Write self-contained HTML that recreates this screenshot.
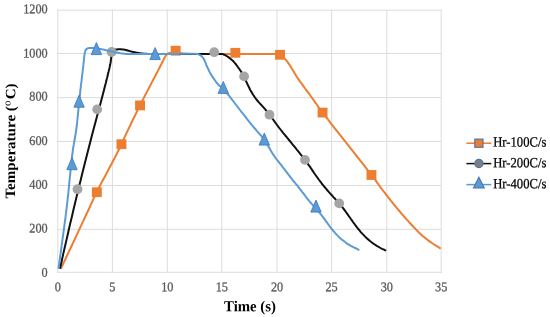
<!DOCTYPE html>
<html><head><meta charset="utf-8"><title>Chart</title>
<style>
html,body{margin:0;padding:0;background:#fff;}
body{width:550px;height:317px;overflow:hidden;}
svg{display:block;}
text{font-family:"Liberation Serif","Times New Roman",serif;text-rendering:geometricPrecision;}
.tick{font-size:13.3px;fill:#595959;stroke:#595959;stroke-width:0.3px;}
.leg{font-size:14px;fill:#000;stroke:#000;stroke-width:0.25px;}
.ttl{font-size:15.2px;font-weight:bold;fill:#000;}
.yttl{font-size:14.3px;font-weight:bold;fill:#000;}
</style></head><body>
<svg width="550" height="317" viewBox="0 0 550 317">
<rect width="550" height="317" fill="#fff"/>
<g stroke="#dcdcdc" stroke-width="1" fill="none">
<line x1="57.80" y1="9.7" x2="57.80" y2="272.8"/>
<line x1="112.40" y1="9.7" x2="112.40" y2="272.8"/>
<line x1="167.30" y1="9.7" x2="167.30" y2="272.8"/>
<line x1="221.80" y1="9.7" x2="221.80" y2="272.8"/>
<line x1="277.00" y1="9.7" x2="277.00" y2="272.8"/>
<line x1="331.60" y1="9.7" x2="331.60" y2="272.8"/>
<line x1="386.80" y1="9.7" x2="386.80" y2="272.8"/>
<line x1="441.20" y1="9.7" x2="441.20" y2="272.8"/>
<line x1="57.3" y1="272.30" x2="441.7" y2="272.30"/>
<line x1="57.3" y1="229.30" x2="441.7" y2="229.30"/>
<line x1="57.3" y1="185.50" x2="441.7" y2="185.50"/>
<line x1="57.3" y1="141.40" x2="441.7" y2="141.40"/>
<line x1="57.3" y1="97.60" x2="441.7" y2="97.60"/>
<line x1="57.3" y1="53.50" x2="441.7" y2="53.50"/>
<line x1="57.3" y1="10.20" x2="441.7" y2="10.20"/>
</g>
<text class="tick" transform="translate(47.70,276.80) rotate(0.05) scale(0.92,1)" text-anchor="end">0</text>
<text class="tick" transform="translate(47.70,232.40) rotate(0.05) scale(0.92,1)" text-anchor="end">200</text>
<text class="tick" transform="translate(47.70,188.70) rotate(0.05) scale(0.92,1)" text-anchor="end">400</text>
<text class="tick" transform="translate(47.70,145.10) rotate(0.05) scale(0.92,1)" text-anchor="end">600</text>
<text class="tick" transform="translate(47.70,100.60) rotate(0.05) scale(0.92,1)" text-anchor="end">800</text>
<text class="tick" transform="translate(47.70,57.50) rotate(0.05) scale(0.92,1)" text-anchor="end">1000</text>
<text class="tick" transform="translate(47.70,13.25) rotate(0.05) scale(0.92,1)" text-anchor="end">1200</text>
<text class="tick" transform="translate(57.80,291.30) rotate(0.05) scale(0.92,1)" text-anchor="middle">0</text>
<text class="tick" transform="translate(112.40,291.30) rotate(0.05) scale(0.92,1)" text-anchor="middle">5</text>
<text class="tick" transform="translate(167.30,291.30) rotate(0.05) scale(0.92,1)" text-anchor="middle">10</text>
<text class="tick" transform="translate(221.80,291.30) rotate(0.05) scale(0.92,1)" text-anchor="middle">15</text>
<text class="tick" transform="translate(277.00,291.30) rotate(0.05) scale(0.92,1)" text-anchor="middle">20</text>
<text class="tick" transform="translate(331.60,291.30) rotate(0.05) scale(0.92,1)" text-anchor="middle">25</text>
<text class="tick" transform="translate(386.80,291.30) rotate(0.05) scale(0.92,1)" text-anchor="middle">30</text>
<text class="tick" transform="translate(441.20,291.30) rotate(0.05) scale(0.92,1)" text-anchor="middle">35</text>
<text class="ttl" transform="translate(250.00,311.35) rotate(0.05) scale(0.975,1)" text-anchor="middle">Time (s)</text>
<text class="yttl" transform="translate(15.10,198.60) rotate(-90) rotate(0.05) scale(1.054,1)" text-anchor="start">Temperature (<tspan dx="0.2" dy="-4.6" style="font-size:10.5px;font-weight:normal">o</tspan><tspan dx="1.0" dy="4.6">C)</tspan></text>
<polyline points="60.8,268.8 64.4,261.2 68.1,253.3 71.9,245.3 75.6,237.3 79.2,229.6 82.6,222.3 85.7,215.7 88.4,210.0 89.7,207.3 90.7,204.9 91.7,202.8 92.6,200.8 93.5,198.8 94.5,196.8 95.6,194.5 96.8,192.0 99.2,187.3 102.0,181.8 105.2,175.9 108.4,169.7 111.6,163.7 114.5,158.3 116.9,153.6 118.7,150.0 119.2,149.0 119.5,148.3 119.8,147.6 120.1,147.0 120.3,146.4 120.6,145.7 121.0,145.0 121.4,144.0 123.0,140.6 125.1,136.1 127.6,130.9 130.3,125.3 133.0,119.5 135.7,114.1 138.0,109.2 140.0,105.2 140.9,103.4 141.7,101.9 142.4,100.4 143.2,99.1 143.8,97.8 144.5,96.5 145.2,95.1 146.0,93.7 146.8,92.1 147.7,90.4 148.6,88.7 149.5,87.0 150.4,85.3 151.2,83.6 152.1,81.9 153.0,80.2 153.9,78.5 154.8,76.8 155.7,75.0 156.6,73.3 157.5,71.6 158.4,69.9 159.2,68.3 160.0,66.7 160.6,65.5 161.3,64.2 161.9,63.0 162.5,61.8 163.1,60.7 163.6,59.6 164.1,58.7 164.6,57.8 164.9,57.3 165.1,56.9 165.3,56.5 165.5,56.1 165.7,55.8 165.9,55.4 166.1,55.1 166.4,54.8 166.6,54.6 166.9,54.3 167.2,54.1 167.4,53.9 167.7,53.8 168.0,53.6 168.3,53.4 168.6,53.3 169.0,53.2 169.4,53.0 169.8,52.9 170.2,52.9 170.7,52.8 171.1,52.7 171.6,52.7 172.0,52.6 172.4,52.5 172.9,52.5 173.3,52.4 173.8,52.3 174.2,52.3 174.7,52.2 175.1,52.2 175.6,52.2 176.1,52.2 176.7,52.3 177.2,52.4 177.8,52.5 178.3,52.7 178.9,52.8 179.4,52.9 180.0,53.0 180.6,53.1 181.2,53.2 181.7,53.3 182.3,53.4 182.9,53.5 183.6,53.6 184.2,53.6 185.0,53.7 186.5,53.8 188.1,53.8 189.9,53.9 191.9,53.9 193.9,53.9 195.9,53.9 198.0,53.9 200.0,53.9 202.4,53.9 204.9,53.9 207.4,53.9 210.0,53.9 212.5,53.9 215.1,53.9 217.6,53.9 220.0,53.9 222.1,53.9 224.1,53.9 226.1,53.9 228.1,53.9 230.0,53.9 232.0,53.9 233.9,53.9 235.8,53.9 237.6,53.9 239.4,53.9 241.2,53.9 242.9,53.9 244.7,53.9 246.4,53.9 248.2,53.9 250.0,53.9 251.9,53.9 253.9,53.9 255.8,53.9 257.8,53.9 259.8,53.9 261.6,53.9 263.4,53.9 265.0,53.9 266.0,53.9 267.0,53.9 267.9,53.9 268.7,53.9 269.6,53.9 270.4,53.9 271.2,53.9 272.0,53.9 272.7,53.9 273.5,53.9 274.2,53.9 274.9,53.9 275.6,54.0 276.3,54.0 276.9,54.0 277.5,54.0 277.9,54.1 278.2,54.1 278.5,54.1 278.8,54.2 279.1,54.2 279.4,54.2 279.7,54.3 280.0,54.4 280.3,54.5 280.6,54.6 280.9,54.7 281.1,54.9 281.4,55.0 281.7,55.2 281.9,55.4 282.2,55.6 282.5,55.9 282.9,56.2 283.2,56.6 283.5,56.9 283.8,57.3 284.1,57.8 284.5,58.2 284.8,58.6 285.2,59.1 285.7,59.7 286.2,60.3 286.7,60.9 287.2,61.5 287.7,62.1 288.1,62.8 288.6,63.4 289.1,64.1 289.6,64.9 290.1,65.6 290.6,66.4 291.1,67.2 291.5,68.0 292.0,68.7 292.4,69.4 292.7,70.0 293.0,70.5 293.3,71.0 293.6,71.5 293.9,72.1 294.2,72.6 294.5,73.1 294.8,73.6 295.1,74.1 295.4,74.6 295.7,75.1 296.0,75.6 296.4,76.1 296.7,76.7 297.1,77.3 297.6,78.0 298.7,79.6 300.1,81.6 301.7,83.7 303.4,86.1 305.1,88.5 306.9,90.9 308.7,93.2 310.3,95.5 311.8,97.6 313.2,99.5 314.5,101.4 315.9,103.3 317.3,105.3 318.8,107.5 320.6,109.8 322.5,112.4 327.3,118.6 333.2,126.3 340.0,134.8 347.1,143.8 354.2,152.8 360.9,161.3 366.8,168.8 371.4,174.8 373.1,177.1 374.7,179.2 376.1,181.1 377.3,182.8 378.5,184.5 379.7,186.1 380.9,187.8 382.2,189.5 383.4,191.1 384.7,192.7 385.9,194.3 387.1,195.9 388.3,197.5 389.6,199.0 390.8,200.6 392.1,202.2 393.4,203.9 394.8,205.5 396.2,207.2 397.5,208.8 398.9,210.5 400.3,212.2 401.7,213.8 403.1,215.4 404.5,217.0 405.9,218.6 407.3,220.1 408.7,221.7 410.1,223.2 411.5,224.7 412.9,226.2 414.2,227.6 415.3,228.8 416.4,229.9 417.5,231.0 418.6,232.1 419.7,233.2 420.8,234.2 421.9,235.2 423.0,236.2 424.1,237.1 425.2,238.0 426.3,238.9 427.4,239.7 428.5,240.6 429.6,241.4 430.8,242.2 431.9,243.0 433.0,243.7 434.1,244.5 435.2,245.2 436.3,245.9 437.4,246.5 438.5,247.2 439.6,247.9 440.7,248.6" fill="none" stroke="#ed7d31" stroke-width="2" stroke-linejoin="round" stroke-linecap="butt"/>
<rect x="91.9" y="187.3" width="9.9" height="9.8" fill="#ed7d31"/>
<rect x="116.5" y="139.3" width="9.9" height="9.8" fill="#ed7d31"/>
<rect x="135.1" y="100.5" width="9.9" height="9.8" fill="#ed7d31"/>
<rect x="170.7" y="45.8" width="9.9" height="9.8" fill="#ed7d31"/>
<rect x="230.4" y="47.9" width="9.9" height="9.8" fill="#ed7d31"/>
<rect x="275.1" y="49.9" width="9.9" height="9.8" fill="#ed7d31"/>
<rect x="317.6" y="107.7" width="9.9" height="9.8" fill="#ed7d31"/>
<rect x="366.5" y="170.1" width="9.9" height="9.8" fill="#ed7d31"/>
<polyline points="59.9,268.8 61.6,261.5 63.2,254.1 64.9,246.8 66.6,239.4 68.3,232.1 69.9,224.7 71.7,217.4 73.4,210.0 75.2,202.5 77.0,195.0 78.8,187.5 80.7,180.0 82.5,172.5 84.4,165.0 86.3,157.5 88.2,150.0 90.2,142.2 92.3,134.1 94.5,125.8 96.7,117.6 98.8,109.7 100.8,102.3 102.5,95.7 104.0,90.0 104.6,87.5 105.2,85.2 105.8,83.1 106.3,81.1 106.7,79.3 107.2,77.5 107.6,75.8 108.0,74.0 108.3,72.6 108.7,71.3 109.0,69.9 109.3,68.7 109.6,67.4 109.8,66.2 110.1,65.1 110.3,64.0 110.4,63.3 110.6,62.6 110.7,61.9 110.8,61.3 110.8,60.7 110.9,60.1 111.0,59.4 111.1,58.8 111.2,58.1 111.2,57.4 111.3,56.7 111.4,56.0 111.4,55.3 111.5,54.7 111.6,54.1 111.7,53.5 111.8,53.2 111.9,52.8 112.0,52.5 112.1,52.2 112.2,51.9 112.3,51.7 112.4,51.4 112.6,51.2 112.7,51.0 112.9,50.8 113.1,50.7 113.2,50.5 113.4,50.4 113.6,50.2 113.8,50.1 114.0,50.0 114.2,49.9 114.4,49.8 114.7,49.7 114.9,49.7 115.2,49.6 115.4,49.6 115.7,49.5 116.0,49.5 116.4,49.4 116.9,49.4 117.4,49.4 117.9,49.3 118.4,49.3 119.0,49.3 119.5,49.3 120.0,49.3 120.5,49.3 121.0,49.3 121.5,49.3 122.0,49.4 122.5,49.4 123.0,49.5 123.5,49.5 124.0,49.6 124.5,49.7 125.0,49.8 125.5,49.9 126.0,50.0 126.5,50.2 127.0,50.3 127.5,50.5 128.0,50.6 128.6,50.8 129.2,50.9 129.8,51.1 130.5,51.3 131.1,51.4 131.7,51.6 132.4,51.8 133.0,51.9 133.6,52.0 134.2,52.2 134.9,52.3 135.5,52.4 136.1,52.6 136.7,52.7 137.4,52.8 138.0,52.9 138.6,53.0 139.2,53.1 139.9,53.2 140.5,53.3 141.1,53.4 141.7,53.5 142.4,53.5 143.0,53.6 143.6,53.7 144.2,53.7 144.8,53.8 145.4,53.8 146.1,53.8 146.7,53.8 147.3,53.9 148.0,53.9 148.8,53.9 149.6,53.9 150.3,54.0 151.1,54.0 152.0,54.0 152.9,54.0 153.9,54.0 155.0,54.0 157.7,54.0 161.0,54.0 164.7,54.0 168.6,54.0 172.7,53.9 176.9,53.9 181.0,53.9 185.0,53.9 189.3,53.9 193.9,53.9 198.7,53.9 203.5,53.9 208.0,54.0 212.1,54.0 215.5,54.0 218.0,54.0 218.6,54.0 219.2,54.0 219.6,54.0 220.0,54.0 220.4,54.0 220.8,54.0 221.1,54.0 221.5,54.0 221.8,54.0 222.0,54.0 222.2,54.1 222.4,54.1 222.6,54.1 222.8,54.2 223.1,54.2 223.3,54.3 223.7,54.5 224.2,54.7 224.7,54.9 225.2,55.2 225.8,55.5 226.3,55.8 226.9,56.2 227.4,56.5 228.0,56.9 228.7,57.4 229.4,57.9 230.0,58.4 230.7,58.9 231.3,59.4 231.9,59.9 232.5,60.4 232.9,60.8 233.3,61.2 233.7,61.7 234.1,62.1 234.4,62.5 234.8,62.9 235.1,63.4 235.5,63.8 235.9,64.2 236.2,64.7 236.5,65.1 236.9,65.6 237.2,66.0 237.5,66.5 237.9,67.0 238.3,67.6 239.0,68.5 239.7,69.6 240.5,70.7 241.3,71.9 242.1,73.1 242.8,74.2 243.5,75.4 244.1,76.4 244.5,77.1 244.8,77.8 245.0,78.5 245.3,79.1 245.5,79.8 245.8,80.4 246.1,81.2 246.4,81.9 246.9,83.0 247.4,84.1 248.0,85.3 248.6,86.5 249.2,87.8 249.8,89.0 250.4,90.2 251.1,91.4 251.8,92.5 252.4,93.6 253.1,94.7 253.8,95.7 254.5,96.8 255.2,97.8 256.0,98.9 256.8,99.9 257.7,101.0 258.6,102.1 259.6,103.2 260.6,104.3 261.6,105.3 262.6,106.4 263.5,107.4 264.4,108.4 265.1,109.2 265.7,110.0 266.3,110.7 266.9,111.4 267.5,112.2 268.1,113.0 268.8,113.8 269.5,114.7 270.6,116.2 271.8,117.8 273.1,119.5 274.4,121.3 275.7,123.2 277.1,125.0 278.4,126.8 279.7,128.5 280.9,130.0 282.0,131.4 283.1,132.8 284.2,134.1 285.3,135.5 286.5,136.9 287.7,138.4 289.0,140.0 290.8,142.2 292.7,144.6 294.8,147.0 296.8,149.6 298.9,152.2 301.0,154.8 303.0,157.3 305.0,159.9 306.9,162.4 308.7,165.1 310.6,167.7 312.4,170.4 314.1,173.0 315.9,175.5 317.5,177.8 319.1,180.0 320.2,181.4 321.2,182.7 322.1,184.0 323.1,185.2 324.0,186.3 325.0,187.5 326.0,188.7 327.1,190.0 328.5,191.6 330.1,193.4 331.8,195.2 333.4,197.1 335.1,198.8 336.6,200.5 338.0,202.1 339.2,203.4 339.7,204.0 340.2,204.6 340.6,205.1 341.0,205.5 341.4,206.0 341.8,206.5 342.2,207.0 342.7,207.6 343.5,208.7 344.4,209.9 345.3,211.1 346.3,212.5 347.3,213.9 348.3,215.3 349.2,216.7 350.2,218.0 351.1,219.3 352.1,220.6 353.0,222.0 354.0,223.3 354.9,224.6 355.9,225.9 356.8,227.2 357.8,228.4 358.7,229.5 359.7,230.7 360.6,231.8 361.5,232.8 362.5,233.9 363.5,234.9 364.4,235.9 365.4,236.9 366.3,237.8 367.2,238.6 368.2,239.4 369.1,240.2 370.0,241.0 371.0,241.8 371.9,242.5 372.9,243.2 373.8,243.9 374.8,244.5 375.8,245.2 376.7,245.8 377.7,246.4 378.7,246.9 379.6,247.5 380.5,248.0 381.2,248.4 382.0,248.8 382.7,249.1 383.4,249.4 384.1,249.7 384.8,250.1 385.5,250.4 386.2,250.7" fill="none" stroke="#111" stroke-width="2" stroke-linejoin="round" stroke-linecap="butt"/>
<circle cx="77.5" cy="189.2" r="4.9" fill="#a5a5a5"/>
<circle cx="97.2" cy="109.4" r="4.9" fill="#a5a5a5"/>
<circle cx="111.6" cy="52.0" r="4.9" fill="#a5a5a5"/>
<circle cx="214.2" cy="52.2" r="4.9" fill="#a5a5a5"/>
<circle cx="244.1" cy="76.4" r="4.9" fill="#a5a5a5"/>
<circle cx="269.5" cy="114.7" r="4.9" fill="#a5a5a5"/>
<circle cx="305.0" cy="159.9" r="4.9" fill="#a5a5a5"/>
<circle cx="339.2" cy="203.4" r="4.9" fill="#a5a5a5"/>
<polyline points="58.5,268.8 59.5,261.5 60.5,254.1 61.5,246.8 62.5,239.4 63.5,232.1 64.5,224.7 65.5,217.4 66.4,210.0 67.3,202.3 68.2,194.3 69.0,186.1 69.8,178.0 70.6,170.2 71.4,162.7 72.1,156.0 72.9,150.0 73.3,147.0 73.8,144.4 74.2,142.0 74.6,139.8 75.0,137.5 75.4,135.2 75.8,132.8 76.2,130.0 76.8,125.5 77.3,120.5 77.9,115.2 78.4,109.7 79.0,104.2 79.5,99.0 80.0,94.2 80.4,90.0 80.7,87.8 80.9,85.7 81.1,83.8 81.4,81.9 81.6,80.2 81.8,78.5 82.0,76.7 82.2,75.0 82.4,73.4 82.6,71.9 82.7,70.4 82.9,68.8 83.1,67.4 83.3,65.9 83.4,64.4 83.6,63.0 83.7,61.7 83.9,60.3 84.0,58.9 84.1,57.6 84.3,56.3 84.4,55.1 84.6,54.0 84.8,53.0 84.9,52.5 85.0,52.0 85.2,51.5 85.3,51.1 85.4,50.7 85.6,50.3 85.8,49.9 86.0,49.6 86.2,49.3 86.5,49.1 86.8,48.9 87.1,48.7 87.4,48.5 87.7,48.3 88.1,48.2 88.5,48.1 89.1,48.0 89.8,47.9 90.6,47.9 91.3,47.9 92.1,48.0 93.0,48.1 93.7,48.1 94.5,48.2 95.2,48.3 95.9,48.3 96.6,48.4 97.2,48.5 97.9,48.6 98.6,48.7 99.3,48.8 100.0,48.9 100.8,49.1 101.7,49.2 102.6,49.4 103.4,49.6 104.3,49.8 105.2,50.0 106.0,50.2 106.8,50.4 107.4,50.5 108.0,50.7 108.5,50.8 109.1,50.9 109.6,51.0 110.2,51.1 110.8,51.3 111.4,51.4 112.3,51.6 113.2,51.8 114.1,52.0 115.1,52.2 116.0,52.4 117.0,52.6 118.0,52.8 118.9,53.0 119.8,53.1 120.6,53.3 121.5,53.4 122.4,53.5 123.2,53.6 124.1,53.7 125.0,53.8 125.8,53.9 126.6,54.0 127.4,54.0 128.1,54.0 128.9,54.1 129.6,54.1 130.4,54.1 131.2,54.1 132.0,54.1 132.9,54.1 133.9,54.1 134.9,54.1 135.9,54.1 136.9,54.1 137.9,54.0 139.0,54.0 140.0,54.0 141.2,54.0 142.3,54.0 143.5,54.0 144.6,53.9 145.9,53.9 147.2,53.9 148.5,53.9 150.0,53.9 152.6,53.9 155.5,53.9 158.6,53.9 161.9,53.9 165.3,53.9 168.6,53.9 171.9,53.9 175.0,53.9 177.9,53.9 181.0,53.8 184.0,53.8 187.1,53.7 190.0,53.7 192.6,53.7 194.8,53.7 196.5,53.9 197.0,54.0 197.5,54.1 197.8,54.1 198.2,54.2 198.5,54.3 198.8,54.5 199.1,54.6 199.5,54.8 200.0,55.1 200.5,55.4 201.0,55.8 201.5,56.2 201.9,56.6 202.4,57.1 202.9,57.6 203.3,58.2 203.8,59.0 204.3,60.0 204.8,61.0 205.2,62.1 205.7,63.2 206.1,64.4 206.5,65.5 207.0,66.5 207.5,67.5 207.9,68.5 208.4,69.4 208.9,70.4 209.3,71.4 209.8,72.3 210.3,73.2 210.8,74.1 211.3,74.9 211.7,75.6 212.2,76.3 212.7,77.0 213.1,77.7 213.6,78.4 214.1,79.1 214.6,79.8 215.1,80.5 215.5,81.1 216.0,81.8 216.4,82.4 216.9,83.0 217.4,83.6 217.9,84.2 218.4,84.8 218.9,85.3 219.5,85.7 220.0,86.1 220.6,86.5 221.1,86.9 221.8,87.4 222.4,87.9 223.1,88.6 224.8,90.4 226.7,92.8 228.9,95.5 231.1,98.4 233.5,101.5 235.8,104.5 238.0,107.4 240.0,110.0 241.6,112.1 243.3,114.1 244.9,116.2 246.4,118.2 247.9,120.1 249.4,121.9 250.7,123.6 251.9,125.1 252.6,125.9 253.2,126.6 253.7,127.3 254.3,127.9 254.8,128.5 255.3,129.1 255.8,129.7 256.4,130.4 257.0,131.1 257.7,131.9 258.4,132.6 259.0,133.4 259.7,134.1 260.3,134.8 260.9,135.5 261.5,136.2 261.9,136.7 262.3,137.1 262.6,137.6 262.9,138.0 263.3,138.4 263.6,138.8 263.9,139.3 264.3,139.8 264.8,140.5 265.2,141.2 265.7,142.0 266.2,142.8 266.7,143.6 267.2,144.4 267.7,145.2 268.2,146.0 268.7,146.9 269.2,147.7 269.7,148.6 270.2,149.5 270.7,150.4 271.2,151.3 271.7,152.1 272.2,153.0 272.7,153.8 273.3,154.6 273.8,155.4 274.3,156.2 274.9,157.0 275.5,157.8 276.0,158.5 276.6,159.3 277.2,160.0 277.7,160.7 278.3,161.4 278.9,162.1 279.4,162.8 280.0,163.5 280.7,164.3 281.3,165.1 282.2,166.3 283.1,167.5 284.1,168.8 285.1,170.1 286.1,171.5 287.2,172.8 288.1,174.2 289.1,175.4 289.9,176.5 290.8,177.6 291.7,178.7 292.5,179.8 293.4,180.9 294.1,181.8 294.8,182.7 295.4,183.4 295.6,183.7 295.8,183.9 296.0,184.1 296.2,184.3 296.4,184.5 296.6,184.7 296.8,184.9 297.0,185.2 297.5,185.9 298.2,186.7 298.9,187.6 299.6,188.6 300.4,189.6 301.2,190.6 301.9,191.6 302.7,192.6 303.5,193.6 304.3,194.7 305.1,195.7 305.9,196.8 306.7,197.8 307.5,198.9 308.3,199.9 309.1,200.9 309.9,201.8 310.7,202.7 311.4,203.6 312.2,204.4 313.0,205.3 313.8,206.1 314.6,207.0 315.4,207.9 316.2,208.8 317.0,209.8 317.9,210.8 318.7,211.7 319.5,212.7 320.3,213.7 321.1,214.6 321.8,215.5 322.3,216.2 322.8,216.9 323.3,217.5 323.8,218.1 324.2,218.8 324.7,219.4 325.2,220.1 325.7,220.8 326.3,221.7 327.0,222.6 327.7,223.5 328.4,224.5 329.1,225.5 329.8,226.5 330.5,227.4 331.3,228.4 332.2,229.5 333.1,230.5 334.0,231.6 334.9,232.7 335.9,233.8 336.9,234.9 337.9,235.9 338.9,236.9 340.0,237.9 341.1,238.9 342.3,239.9 343.5,240.8 344.7,241.8 345.9,242.7 347.1,243.6 348.4,244.4 349.7,245.2 351.0,246.0 352.4,246.7 353.8,247.4 355.2,248.0 356.5,248.7 357.9,249.4 359.3,250.1" fill="none" stroke="#5b9bd5" stroke-width="2" stroke-linejoin="round" stroke-linecap="butt"/>
<polygon points="72.0,157.7 77.2,169.7 66.8,169.7" fill="#5b9bd5" stroke="#3f7dbf" stroke-width="0.9"/>
<polygon points="79.1,95.2 84.3,107.2 73.9,107.2" fill="#5b9bd5" stroke="#3f7dbf" stroke-width="0.9"/>
<polygon points="96.4,42.6 101.6,54.6 91.2,54.6" fill="#5b9bd5" stroke="#3f7dbf" stroke-width="0.9"/>
<polygon points="155.1,47.6 160.3,59.6 149.9,59.6" fill="#5b9bd5" stroke="#3f7dbf" stroke-width="0.9"/>
<polygon points="223.3,81.4 228.5,93.4 218.1,93.4" fill="#5b9bd5" stroke="#3f7dbf" stroke-width="0.9"/>
<polygon points="264.3,133.1 269.5,145.1 259.1,145.1" fill="#5b9bd5" stroke="#3f7dbf" stroke-width="0.9"/>
<polygon points="316.0,200.1 321.2,212.1 310.8,212.1" fill="#5b9bd5" stroke="#3f7dbf" stroke-width="0.9"/>
<line x1="466.4" y1="143.2" x2="491.3" y2="143.2" stroke="#ed7d31" stroke-width="1.5"/>
<rect x="474.79999999999995" y="139.1" width="8.2" height="8.2" fill="#ed7d31" stroke="#4674ab" stroke-width="1.1"/>
<text class="leg" transform="translate(493.20,146.50) rotate(0.05) scale(0.903,1)" text-anchor="start">Hr-100C/s</text>
<line x1="466.4" y1="163.6" x2="491.3" y2="163.6" stroke="#111" stroke-width="1.5"/>
<circle cx="478.9" cy="163.5" r="4.15" fill="#7f7f7f" stroke="#4674ab" stroke-width="1.1"/>
<text class="leg" transform="translate(493.20,167.20) rotate(0.05) scale(0.903,1)" text-anchor="start">Hr-200C/s</text>
<line x1="466.4" y1="184.6" x2="491.3" y2="184.6" stroke="#5b9bd5" stroke-width="1.5"/>
<polygon points="478.9,177.2 484.29999999999995,188.0 473.5,188.0" fill="#5b9bd5" stroke="#4674ab" stroke-width="1.1"/>
<text class="leg" transform="translate(493.20,188.20) rotate(0.05) scale(0.903,1)" text-anchor="start">Hr-400C/s</text>
</svg></body></html>
